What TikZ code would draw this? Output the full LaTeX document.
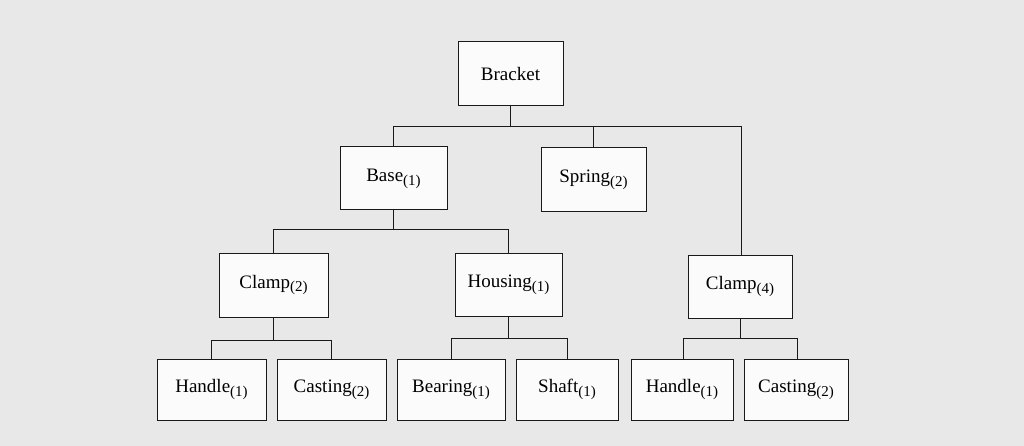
\documentclass[tikz,border=0pt]{standalone}
\usepackage{fontspec}
\setmainfont{Liberation Serif}
\newcommand{\sbs}[1]{\raisebox{-0.45ex}{\fontsize{15}{17}\selectfont #1}}
\begin{document}
\begin{tikzpicture}[x=1pt,y=-1pt,
  box/.style={draw=black!90,line width=1pt,fill=white!70!gray!10,font=\fontsize{19}{21}\selectfont,inner sep=0pt},
  ln/.style={draw=black!90,line width=1pt}]
\fill[gray!18] (0,0) rectangle (1024,446);
\useasboundingbox (0,0) rectangle (1024,446);
\newcommand{\bx}[6]{\node[box,minimum width=#4-#2,minimum height=#5-#3] (#1) at ({(#2+#4)/2},{(#3+#5)/2}) {#6};}
\bx{br}{458}{42}{563}{106}{Bracket}
\bx{base}{340}{147}{447}{210}{Base\sbs{(1)}}
\bx{spr}{541}{148}{646}{212}{Spring\sbs{(2)}}
\bx{cl2}{219}{253}{328}{317}{Clamp\sbs{(2)}}
\bx{hou}{455}{253}{562}{316}{Housing\sbs{(1)}}
\bx{cl4}{688}{255}{792}{318}{Clamp\sbs{(4)}}
\bx{h1}{157}{359}{266}{420}{Handle\sbs{(1)}}
\bx{c1}{277}{359}{386}{420}{Casting\sbs{(2)}}
\bx{be}{397}{359}{505}{420}{Bearing\sbs{(1)}}
\bx{sh}{516}{359}{618}{420}{Shaft\sbs{(1)}}
\bx{h2}{631}{359}{733}{420}{Handle\sbs{(1)}}
\bx{c2}{744}{359}{848}{420}{Casting\sbs{(2)}}
\draw[ln] (br.south) -- (br.south |- 0,127);
\draw[ln] (base.north) -- (base.north |- 0,127) -- (741,127) -- (741,255);
\draw[ln] (spr.north) -- (spr.north |- 0,127);
\draw[ln] (base.south) -- (base.south |- 0,230);
\draw[ln] (cl2.north) -- (cl2.north |- 0,230) -- (hou.north |- 0,230) -- (hou.north);
\draw[ln] (cl2.south) -- (cl2.south |- 0,340);
\draw[ln] (211,359) -- (211,340) -- (331,340) -- (331,359);
\draw[ln] (hou.south) -- (hou.south |- 0,338);
\draw[ln] (451,359) -- (451,338) -- (567,338) -- (567,359);
\draw[ln] (cl4.south) -- (cl4.south |- 0,338);
\draw[ln] (683,359) -- (683,338) -- (797,338) -- (797,359);
\end{tikzpicture}
\end{document}
